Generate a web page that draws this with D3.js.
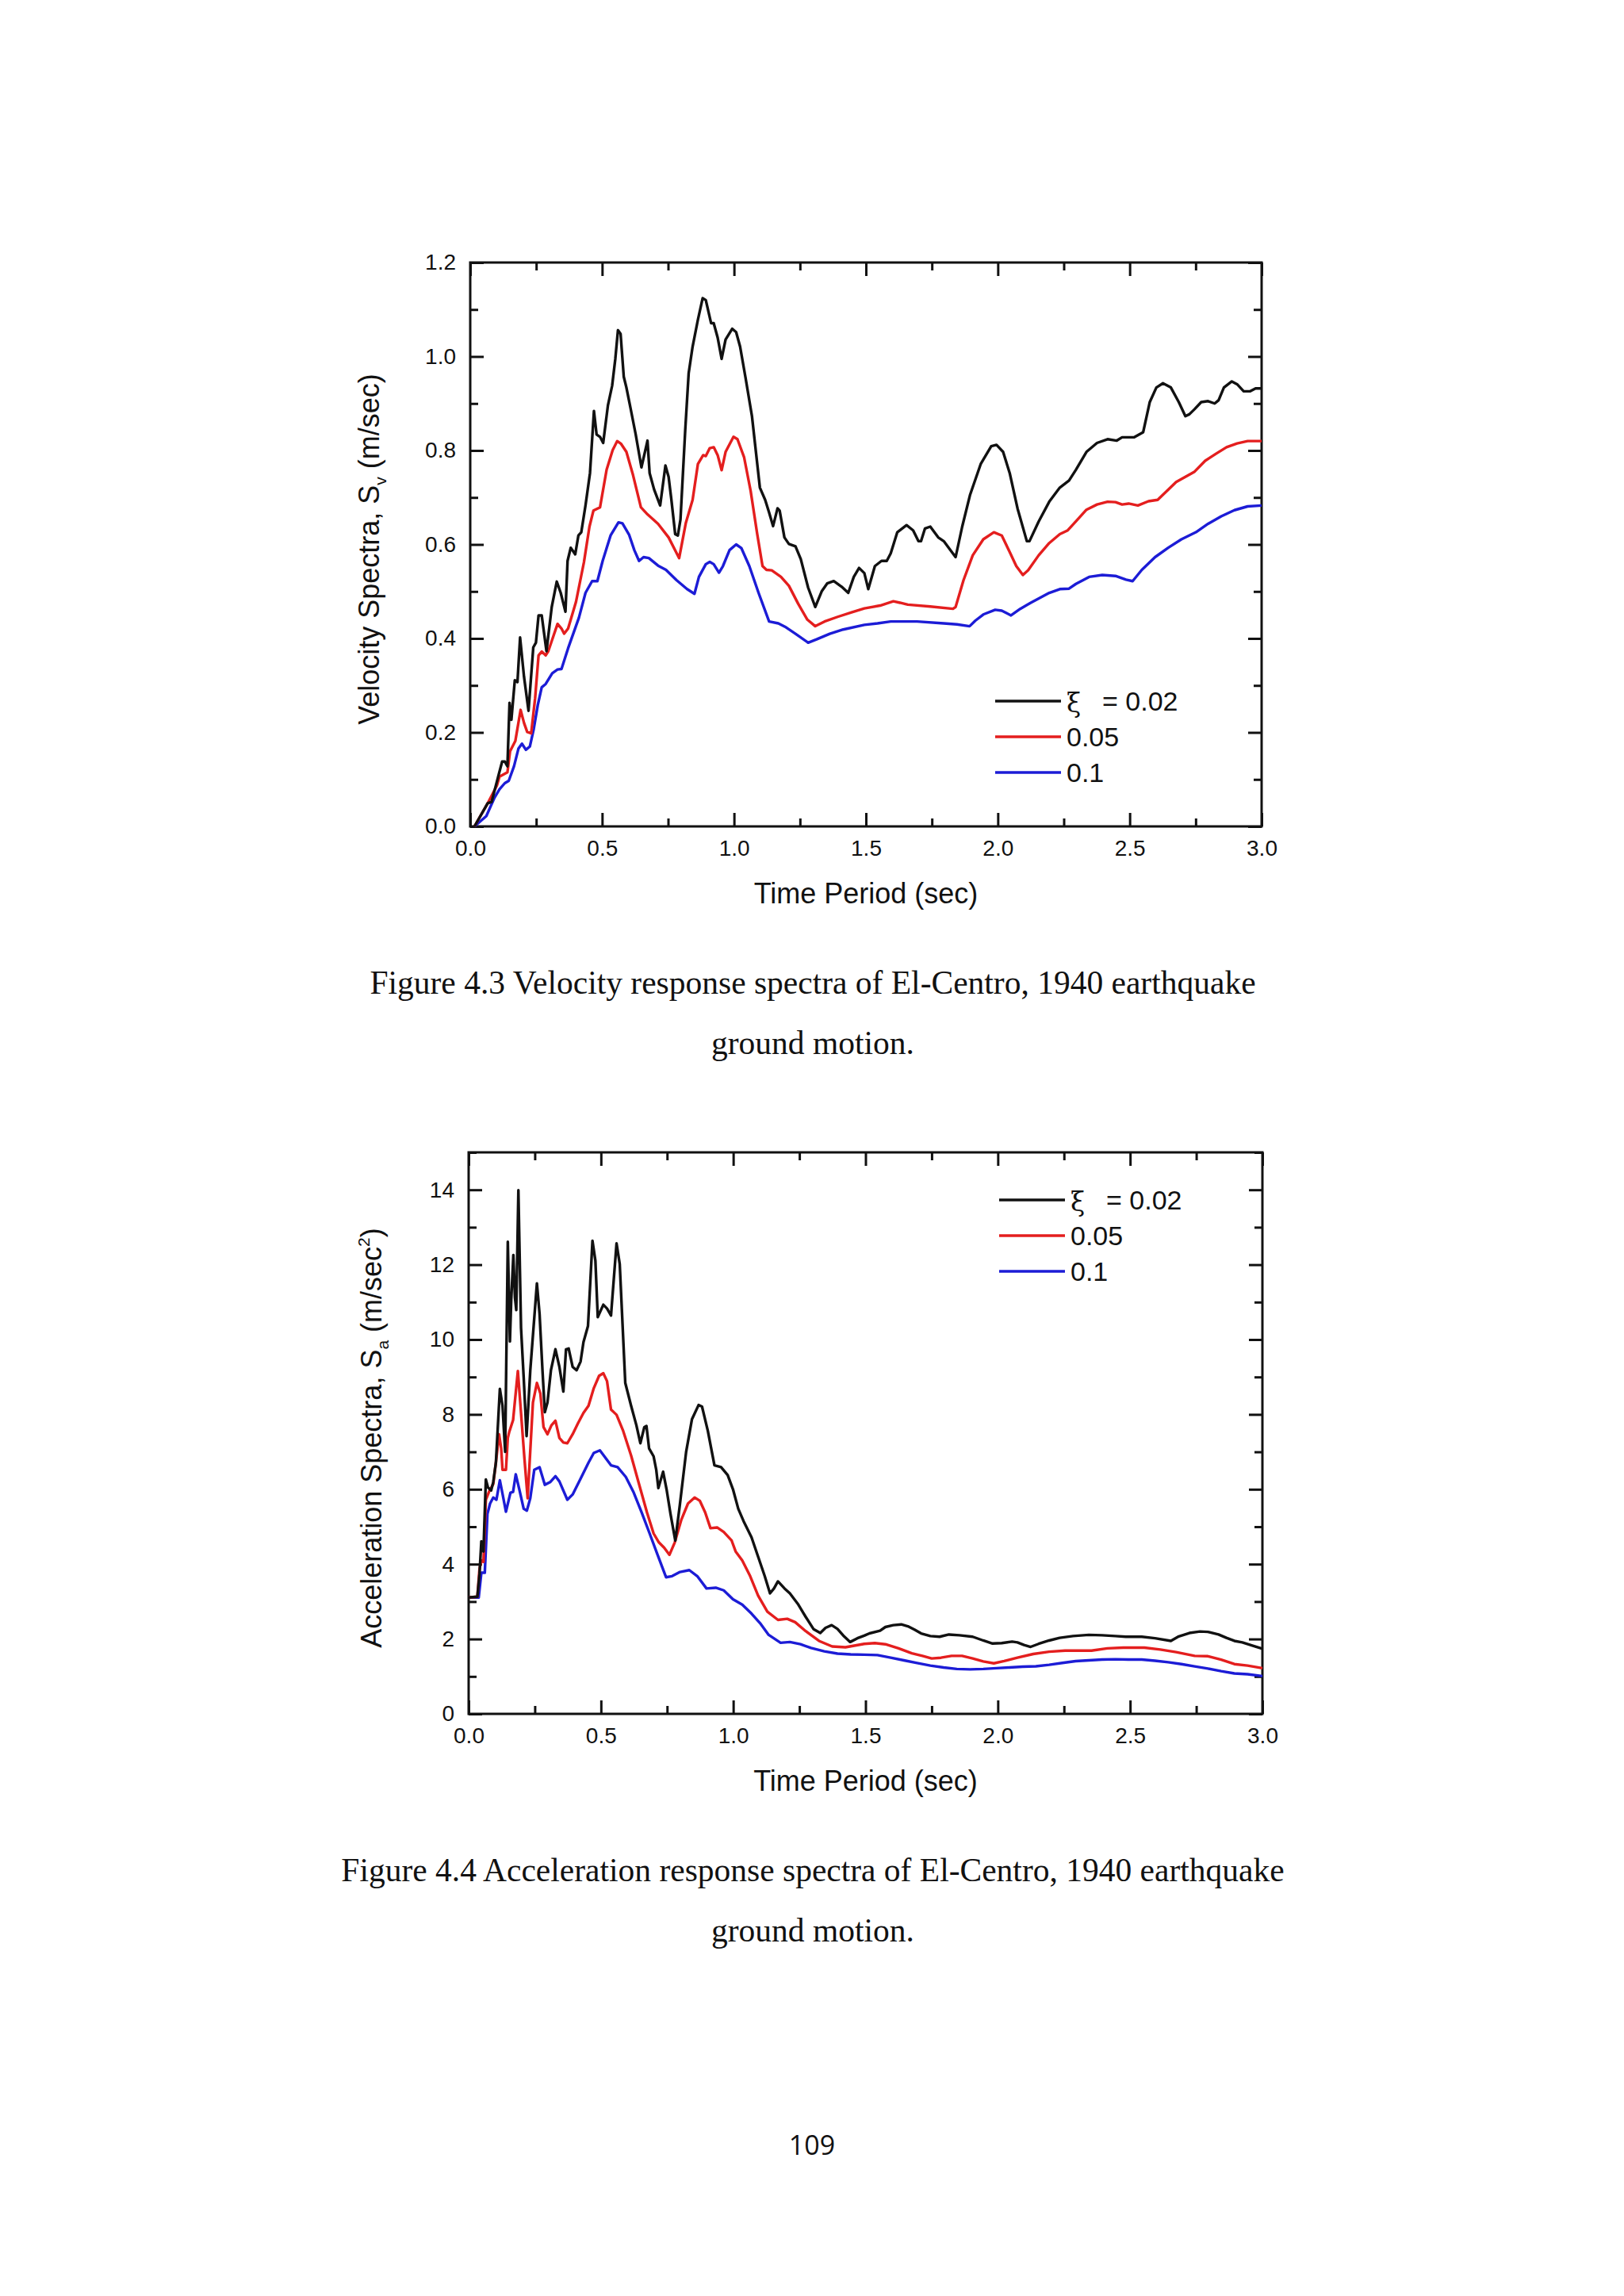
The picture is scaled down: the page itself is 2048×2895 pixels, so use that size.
<!DOCTYPE html>
<html>
<head>
<meta charset="utf-8">
<script src="https://d3js.org/d3.v7.min.js"></script>
<style>
  body { margin: 0; background: #ffffff; }
  text { font-family: "Liberation Sans", Arial, sans-serif; fill: #111; }
</style>
</head>
<body>
<div id="page"></div>
<script>
// ---- data: [period (sec), spectral value] ----
var periodTicks = [0, 0.5, 1.0, 1.5, 2.0, 2.5, 3.0];
var periodMinor = [0.25, 0.75, 1.25, 1.75, 2.25, 2.75];
var svTicks = [0, 0.2, 0.4, 0.6, 0.8, 1.0, 1.2];
var svMinor = [0.1, 0.3, 0.5, 0.7, 0.9, 1.1];
var saTicks = [0, 2, 4, 6, 8, 10, 12, 14];
var saMinor = [1, 3, 5, 7, 9, 11, 13, 15];
var dampingLabels = ["= 0.02", "0.05", "0.1"];

// velocity spectra, damping 0.02 / 0.05 / 0.1
var sv002 = [[0.016,0],[0.066,0.049],[0.081,0.052],[0.106,0.106],[0.121,0.138],[0.131,0.138],[0.141,0.128],[0.149,0.263],[0.156,0.227],[0.169,0.311],[0.179,0.307],[0.189,0.402],[0.204,0.318],[0.221,0.246],[0.239,0.381],[0.249,0.391],[0.259,0.449],[0.271,0.449],[0.289,0.373],[0.309,0.467],[0.328,0.521],[0.343,0.497],[0.361,0.457],[0.369,0.565],[0.381,0.593],[0.398,0.579],[0.410,0.619],[0.421,0.626],[0.437,0.683],[0.454,0.752],[0.469,0.884],[0.479,0.834],[0.492,0.829],[0.504,0.816],[0.522,0.896],[0.538,0.938],[0.550,0.995],[0.560,1.056],[0.570,1.048],[0.582,0.957],[0.592,0.934],[0.607,0.892],[0.627,0.835],[0.649,0.764],[0.672,0.821],[0.680,0.752],[0.697,0.717],[0.720,0.683],[0.740,0.768],[0.752,0.744],[0.762,0.698],[0.777,0.622],[0.787,0.619],[0.797,0.653],[0.815,0.843],[0.828,0.964],[0.843,1.021],[0.863,1.078],[0.881,1.124],[0.893,1.120],[0.913,1.071],[0.923,1.071],[0.938,1.040],[0.953,0.995],[0.968,1.036],[0.993,1.059],[1.008,1.052],[1.023,1.021],[1.043,0.957],[1.068,0.873],[1.098,0.721],[1.118,0.695],[1.133,0.668],[1.148,0.639],[1.165,0.677],[1.173,0.672],[1.191,0.615],[1.208,0.601],[1.233,0.596],[1.253,0.569],[1.281,0.508],[1.308,0.467],[1.333,0.501],[1.353,0.517],[1.378,0.522],[1.408,0.510],[1.433,0.497],[1.454,0.531],[1.474,0.550],[1.494,0.539],[1.509,0.505],[1.534,0.554],[1.559,0.565],[1.579,0.565],[1.594,0.581],[1.619,0.626],[1.654,0.641],[1.679,0.630],[1.699,0.607],[1.709,0.607],[1.724,0.634],[1.744,0.638],[1.774,0.615],[1.795,0.607],[1.815,0.592],[1.840,0.573],[1.865,0.638],[1.895,0.706],[1.935,0.771],[1.975,0.809],[1.995,0.812],[2.020,0.797],[2.045,0.752],[2.075,0.676],[2.110,0.607],[2.120,0.607],[2.155,0.649],[2.195,0.691],[2.235,0.721],[2.270,0.736],[2.296,0.759],[2.336,0.797],[2.376,0.816],[2.416,0.824],[2.451,0.821],[2.471,0.828],[2.516,0.828],[2.551,0.839],[2.576,0.903],[2.601,0.934],[2.626,0.943],[2.656,0.934],[2.686,0.903],[2.711,0.873],[2.726,0.877],[2.746,0.888],[2.771,0.903],[2.797,0.905],[2.822,0.900],[2.837,0.907],[2.857,0.934],[2.887,0.947],[2.907,0.941],[2.932,0.926],[2.957,0.926],[2.977,0.932],[3.0,0.932]];
var sv005 = [[0.016,0],[0.066,0.049],[0.101,0.087],[0.111,0.106],[0.141,0.115],[0.151,0.160],[0.171,0.182],[0.191,0.248],[0.204,0.220],[0.216,0.201],[0.231,0.198],[0.246,0.273],[0.259,0.364],[0.271,0.372],[0.286,0.364],[0.296,0.373],[0.311,0.398],[0.331,0.431],[0.346,0.421],[0.356,0.410],[0.371,0.421],[0.401,0.478],[0.431,0.562],[0.452,0.638],[0.467,0.672],[0.492,0.679],[0.517,0.759],[0.540,0.801],[0.557,0.820],[0.572,0.814],[0.592,0.797],[0.617,0.748],[0.647,0.679],[0.672,0.664],[0.712,0.644],[0.752,0.615],[0.792,0.571],[0.817,0.645],[0.843,0.695],[0.863,0.771],[0.883,0.790],[0.893,0.788],[0.908,0.805],[0.923,0.807],[0.938,0.790],[0.953,0.758],[0.968,0.797],[0.998,0.829],[1.013,0.824],[1.038,0.786],[1.063,0.714],[1.088,0.622],[1.108,0.554],[1.123,0.546],[1.143,0.545],[1.178,0.531],[1.208,0.512],[1.243,0.474],[1.278,0.440],[1.308,0.426],[1.343,0.436],[1.393,0.446],[1.443,0.455],[1.494,0.464],[1.554,0.470],[1.604,0.479],[1.629,0.476],[1.659,0.472],[1.744,0.468],[1.830,0.463],[1.840,0.467],[1.870,0.524],[1.905,0.577],[1.945,0.611],[1.985,0.626],[2.015,0.619],[2.045,0.584],[2.070,0.554],[2.095,0.535],[2.115,0.545],[2.155,0.577],[2.195,0.603],[2.235,0.622],[2.265,0.630],[2.296,0.649],[2.336,0.674],[2.376,0.685],[2.416,0.691],[2.446,0.690],[2.471,0.685],[2.496,0.687],[2.531,0.683],[2.571,0.692],[2.606,0.695],[2.641,0.714],[2.676,0.733],[2.711,0.744],[2.746,0.755],[2.786,0.778],[2.827,0.793],[2.867,0.807],[2.907,0.815],[2.947,0.820],[3.0,0.820]];
var sv010 = [[0.016,0],[0.061,0.022],[0.091,0.060],[0.111,0.079],[0.131,0.092],[0.146,0.097],[0.166,0.128],[0.183,0.166],[0.196,0.176],[0.211,0.163],[0.226,0.170],[0.241,0.208],[0.256,0.258],[0.271,0.296],[0.286,0.303],[0.311,0.326],[0.331,0.334],[0.346,0.335],[0.371,0.379],[0.412,0.444],[0.437,0.497],[0.462,0.522],[0.482,0.522],[0.502,0.565],[0.532,0.619],[0.562,0.647],[0.577,0.645],[0.602,0.621],[0.622,0.588],[0.640,0.565],[0.657,0.573],[0.677,0.571],[0.712,0.555],[0.742,0.546],[0.782,0.524],[0.822,0.505],[0.850,0.495],[0.867,0.531],[0.893,0.558],[0.908,0.563],[0.923,0.558],[0.943,0.540],[0.958,0.554],[0.983,0.588],[1.008,0.600],[1.028,0.592],[1.058,0.554],[1.093,0.497],[1.133,0.436],[1.168,0.432],[1.193,0.425],[1.233,0.410],[1.281,0.391],[1.313,0.398],[1.363,0.410],[1.414,0.419],[1.494,0.429],[1.544,0.432],[1.594,0.436],[1.694,0.436],[1.795,0.432],[1.845,0.430],[1.893,0.426],[1.915,0.438],[1.945,0.451],[1.990,0.461],[2.015,0.459],[2.050,0.449],[2.085,0.463],[2.125,0.476],[2.195,0.497],[2.235,0.505],[2.270,0.506],[2.296,0.516],[2.346,0.531],[2.396,0.535],[2.446,0.533],[2.486,0.525],[2.511,0.522],[2.546,0.546],[2.596,0.573],[2.646,0.593],[2.696,0.611],[2.751,0.626],[2.797,0.644],[2.847,0.660],[2.897,0.673],[2.947,0.681],[3.0,0.683]];

// acceleration spectra, damping 0.02 / 0.05 / 0.1
var sa002 = [[0,3.11],[0.033,3.13],[0.041,3.73],[0.048,4.61],[0.056,4.34],[0.065,6.26],[0.073,6.05],[0.085,5.97],[0.093,6.19],[0.103,6.71],[0.118,8.68],[0.128,8.23],[0.138,7.00],[0.148,12.61],[0.156,9.95],[0.161,11.07],[0.169,12.26],[0.175,11.12],[0.180,10.79],[0.188,13.99],[0.198,10.31],[0.208,8.99],[0.219,7.42],[0.233,9.18],[0.258,11.50],[0.268,10.69],[0.279,9.18],[0.288,8.06],[0.298,8.32],[0.311,9.18],[0.328,9.74],[0.343,9.27],[0.358,8.61],[0.368,9.74],[0.378,9.76],[0.393,9.27],[0.408,9.18],[0.423,9.41],[0.434,9.93],[0.451,10.36],[0.468,12.64],[0.479,12.11],[0.488,10.60],[0.509,10.93],[0.523,10.83],[0.538,10.64],[0.559,12.57],[0.571,12.02],[0.592,8.84],[0.614,8.23],[0.634,7.71],[0.649,7.23],[0.664,7.66],[0.672,7.69],[0.682,7.09],[0.699,6.88],[0.709,6.52],[0.717,6.03],[0.735,6.47],[0.748,6.00],[0.763,5.34],[0.781,4.63],[0.798,5.57],[0.822,7.00],[0.844,7.87],[0.869,8.25],[0.882,8.21],[0.904,7.56],[0.929,6.64],[0.954,6.59],[0.979,6.38],[0.999,6.00],[1.019,5.48],[1.039,5.15],[1.069,4.72],[1.094,4.20],[1.119,3.68],[1.139,3.22],[1.154,3.35],[1.169,3.54],[1.194,3.35],[1.214,3.22],[1.244,2.94],[1.274,2.59],[1.304,2.26],[1.329,2.16],[1.349,2.30],[1.372,2.37],[1.394,2.27],[1.419,2.07],[1.442,1.92],[1.469,2.02],[1.495,2.09],[1.515,2.15],[1.555,2.22],[1.575,2.32],[1.605,2.37],[1.635,2.39],[1.660,2.34],[1.685,2.25],[1.710,2.15],[1.745,2.08],[1.780,2.06],[1.815,2.12],[1.855,2.10],[1.905,2.06],[1.945,1.96],[1.980,1.88],[2.015,1.89],[2.054,1.93],[2.074,1.91],[2.099,1.84],[2.124,1.79],[2.154,1.87],[2.194,1.96],[2.234,2.03],[2.284,2.08],[2.344,2.11],[2.394,2.10],[2.444,2.08],[2.484,2.06],[2.544,2.06],[2.594,2.02],[2.654,1.95],[2.684,2.07],[2.724,2.16],[2.764,2.20],[2.794,2.19],[2.834,2.12],[2.864,2.03],[2.894,1.95],[2.924,1.91],[2.964,1.82],[3.0,1.74]];
var sa005 = [[0,3.11],[0.033,3.13],[0.041,3.87],[0.048,4.10],[0.056,4.06],[0.065,5.72],[0.078,5.95],[0.093,6.14],[0.103,6.71],[0.115,7.47],[0.123,7.09],[0.128,6.52],[0.141,6.52],[0.148,7.37],[0.153,7.52],[0.168,7.85],[0.186,9.16],[0.198,8.04],[0.211,6.81],[0.223,5.76],[0.243,8.32],[0.258,8.84],[0.271,8.56],[0.283,7.66],[0.298,7.47],[0.313,7.71],[0.328,7.83],[0.343,7.37],[0.358,7.25],[0.373,7.23],[0.393,7.47],[0.413,7.76],[0.434,8.04],[0.453,8.23],[0.473,8.70],[0.493,9.03],[0.509,9.10],[0.523,8.89],[0.538,8.13],[0.559,7.99],[0.584,7.56],[0.614,6.90],[0.644,6.14],[0.674,5.38],[0.699,4.82],[0.719,4.58],[0.739,4.44],[0.759,4.25],[0.779,4.58],[0.804,5.19],[0.829,5.62],[0.854,5.78],[0.874,5.69],[0.894,5.38],[0.914,4.96],[0.939,4.98],[0.964,4.86],[0.994,4.63],[1.009,4.34],[1.034,4.10],[1.064,3.68],[1.094,3.16],[1.129,2.73],[1.169,2.51],[1.204,2.54],[1.234,2.45],[1.274,2.21],[1.324,1.95],[1.374,1.80],[1.424,1.78],[1.495,1.87],[1.535,1.89],[1.575,1.86],[1.625,1.75],[1.675,1.62],[1.715,1.55],[1.750,1.48],[1.785,1.50],[1.825,1.55],[1.865,1.55],[1.905,1.48],[1.945,1.40],[1.985,1.35],[2.024,1.41],[2.074,1.50],[2.134,1.60],[2.194,1.66],[2.254,1.69],[2.354,1.69],[2.414,1.75],[2.474,1.77],[2.554,1.77],[2.614,1.72],[2.674,1.65],[2.744,1.55],[2.794,1.54],[2.844,1.45],[2.894,1.33],[2.944,1.29],[3.0,1.22]];
var sa010 = [[0,3.11],[0.038,3.11],[0.048,3.77],[0.061,3.77],[0.071,5.34],[0.081,5.62],[0.093,5.78],[0.105,5.72],[0.118,6.24],[0.128,5.88],[0.141,5.40],[0.158,5.91],[0.168,5.93],[0.178,6.40],[0.193,5.95],[0.208,5.48],[0.220,5.43],[0.233,5.76],[0.248,6.52],[0.268,6.59],[0.288,6.12],[0.308,6.19],[0.328,6.35],[0.343,6.21],[0.373,5.72],[0.393,5.86],[0.423,6.28],[0.453,6.71],[0.473,6.97],[0.496,7.04],[0.514,6.87],[0.538,6.64],[0.563,6.59],[0.594,6.33],[0.624,5.91],[0.654,5.38],[0.684,4.82],[0.714,4.25],[0.746,3.65],[0.769,3.68],[0.799,3.79],[0.834,3.84],[0.864,3.68],[0.899,3.35],[0.934,3.37],[0.964,3.30],[0.999,3.06],[1.034,2.92],[1.069,2.68],[1.104,2.40],[1.134,2.11],[1.179,1.90],[1.214,1.92],[1.254,1.86],[1.294,1.76],[1.344,1.67],[1.394,1.61],[1.444,1.59],[1.495,1.58],[1.545,1.57],[1.595,1.50],[1.645,1.43],[1.695,1.36],[1.745,1.29],[1.795,1.24],[1.845,1.20],[1.895,1.19],[1.945,1.20],[1.995,1.22],[2.044,1.24],[2.094,1.26],[2.144,1.27],[2.194,1.31],[2.244,1.36],[2.294,1.41],[2.344,1.43],[2.394,1.45],[2.444,1.46],[2.494,1.45],[2.544,1.45],[2.594,1.42],[2.644,1.38],[2.694,1.33],[2.744,1.27],[2.794,1.21],[2.844,1.14],[2.894,1.08],[2.944,1.06],[3.0,1.01]];

var lineColors = ["#111111", "#e41e1e", "#1c1cd6"];

// page
var svg = d3.select("#page")
  .append("svg")
  .attr("width", 2048)
  .attr("height", 2895);

svg.append("rect")
  .attr("width", 2048)
  .attr("height", 2895)
  .attr("fill", "#ffffff");

// one Origin-style panel: closed frame, inward major/minor ticks on all sides
function drawChart(cfg) {
  var g = svg.append("g")
    .attr("transform", `translate(${cfg.left}, ${cfg.top})`);

  var xScale = d3.scaleLinear().domain([0, 3]).range([0, cfg.width]);
  var yScale = d3.scaleLinear().domain(cfg.yDomain).range([cfg.height, 0]);

  var majorLen = 17;
  var minorLen = 10;

  function styleAxis(sel) {
    sel.select(".domain").remove();
    sel.selectAll("line").attr("stroke", "#111").attr("stroke-width", 3);
    sel.selectAll("text").style("font-size", "28px").attr("fill", "#111");
    sel.attr("font-family", null);
  }

  // bottom
  g.append("g")
    .attr("transform", `translate(0, ${cfg.height})`)
    .call(d3.axisBottom(xScale).tickValues(periodTicks).tickFormat(d3.format(".1f"))
      .tickSizeInner(-majorLen).tickSizeOuter(0).tickPadding(17))
    .call(styleAxis);
  g.append("g")
    .attr("transform", `translate(0, ${cfg.height})`)
    .call(d3.axisBottom(xScale).tickValues(periodMinor).tickFormat("")
      .tickSizeInner(-minorLen).tickSizeOuter(0))
    .call(styleAxis);

  // top
  g.append("g")
    .call(d3.axisTop(xScale).tickValues(periodTicks).tickFormat("")
      .tickSizeInner(-majorLen).tickSizeOuter(0))
    .call(styleAxis);
  g.append("g")
    .call(d3.axisTop(xScale).tickValues(periodMinor).tickFormat("")
      .tickSizeInner(-minorLen).tickSizeOuter(0))
    .call(styleAxis);

  // left
  g.append("g")
    .call(d3.axisLeft(yScale).tickValues(cfg.yTicks).tickFormat(cfg.yFormat)
      .tickSizeInner(-majorLen).tickSizeOuter(0).tickPadding(18))
    .call(styleAxis);
  g.append("g")
    .call(d3.axisLeft(yScale).tickValues(cfg.yMinor).tickFormat("")
      .tickSizeInner(-minorLen).tickSizeOuter(0))
    .call(styleAxis);

  // right
  g.append("g")
    .attr("transform", `translate(${cfg.width}, 0)`)
    .call(d3.axisRight(yScale).tickValues(cfg.yTicks).tickFormat("")
      .tickSizeInner(-majorLen).tickSizeOuter(0))
    .call(styleAxis);
  g.append("g")
    .attr("transform", `translate(${cfg.width}, 0)`)
    .call(d3.axisRight(yScale).tickValues(cfg.yMinor).tickFormat("")
      .tickSizeInner(-minorLen).tickSizeOuter(0))
    .call(styleAxis);

  // frame
  g.append("rect")
    .attr("width", cfg.width)
    .attr("height", cfg.height)
    .attr("fill", "none")
    .attr("stroke", "#111")
    .attr("stroke-width", 3);

  // spectra curves (heaviest damping drawn first so black sits on top)
  var line = d3.line()
    .x(d => xScale(d[0]))
    .y(d => yScale(d[1]));

  for (var i = cfg.series.length - 1; i >= 0; i--) {
    g.append("path")
      .datum(cfg.series[i])
      .attr("d", line)
      .attr("fill", "none")
      .attr("stroke", lineColors[i])
      .attr("stroke-width", 3.4)
      .attr("stroke-linejoin", "round");
  }

  // x axis title
  g.append("text")
    .attr("x", cfg.width / 2)
    .attr("y", cfg.height + 97)
    .attr("text-anchor", "middle")
    .style("font-size", "36px")
    .text("Time Period (sec)");

  // y axis title
  var yTitle = g.append("text")
    .attr("transform", `translate(${cfg.yTitleX}, ${cfg.height / 2 + 6}) rotate(-90)`)
    .attr("text-anchor", "middle")
    .style("font-size", "36px");
  cfg.yTitle(yTitle);

  // legend
  var leg = g.append("g")
    .attr("transform", `translate(${cfg.legendX}, ${cfg.legendY})`);
  dampingLabels.forEach(function(lbl, i) {
    var row = leg.append("g").attr("transform", `translate(0, ${i * 45})`);
    row.append("line")
      .attr("x1", 0).attr("x2", 83)
      .attr("stroke", lineColors[i])
      .attr("stroke-width", 3.4);
    var t = row.append("text")
      .attr("x", 90)
      .attr("y", 12)
      .style("font-size", "34px");
    if (i === 0) {
      t.append("tspan")
        .style("font-family", "'DejaVu Serif', 'Liberation Serif', serif")
        .style("font-size", "33px")
        .attr("dy", 2)
        .text("ξ");
      t.append("tspan").attr("x", 135).attr("dy", -2).text(lbl);
    } else {
      t.text(lbl);
    }
  });
}

drawChart({
  left: 593, top: 331, width: 998, height: 711,
  yDomain: [0, 1.2], yTicks: svTicks, yMinor: svMinor, yFormat: d3.format(".1f"),
  series: [sv002, sv005, sv010],
  yTitleX: -115,
  legendX: 1255 - 593, legendY: 884 - 331,
  yTitle: function(t) {
    t.append("tspan").text("Velocity Spectra, S");
    t.append("tspan").attr("dy", 9).style("font-size", "21px").text("v");
    t.append("tspan").attr("dy", -9).text(" (m/sec)");
  }
});

drawChart({
  left: 591, top: 1453, width: 1001, height: 708,
  yDomain: [0, 15], yTicks: saTicks, yMinor: saMinor, yFormat: d3.format("d"),
  series: [sa002, sa005, sa010],
  yTitleX: -110,
  legendX: 1260 - 591, legendY: 1513 - 1453,
  yTitle: function(t) {
    t.append("tspan").text("Acceleration Spectra, S");
    t.append("tspan").attr("dy", 9).style("font-size", "21px").text("a");
    t.append("tspan").attr("dy", -9).text(" (m/sec");
    t.append("tspan").attr("dy", -15).style("font-size", "21px").text("2");
    t.append("tspan").attr("dy", 15).text(")");
  }
});

// captions
var serif = "'Liberation Serif', 'Times New Roman', serif";
var captions = [
  { text: "Figure 4.3 Velocity response spectra of El-Centro, 1940 earthquake", y: 1253 },
  { text: "ground motion.", y: 1329 },
  { text: "Figure 4.4 Acceleration response spectra of El-Centro, 1940 earthquake", y: 2372 },
  { text: "ground motion.", y: 2448 }
];
svg.selectAll(".caption")
  .data(captions)
  .enter()
  .append("text")
  .attr("class", "caption")
  .attr("x", 1025)
  .attr("y", d => d.y)
  .attr("text-anchor", "middle")
  .style("font-family", serif)
  .style("font-size", "41.5px")
  .text(d => d.text);

// page number
svg.append("text")
  .attr("x", 1024)
  .attr("y", 2717)
  .attr("text-anchor", "middle")
  .style("font-family", "'Open Sans', 'Liberation Sans', sans-serif")
  .style("font-size", "34px")
  .text("109");
</script>
</body>
</html>
